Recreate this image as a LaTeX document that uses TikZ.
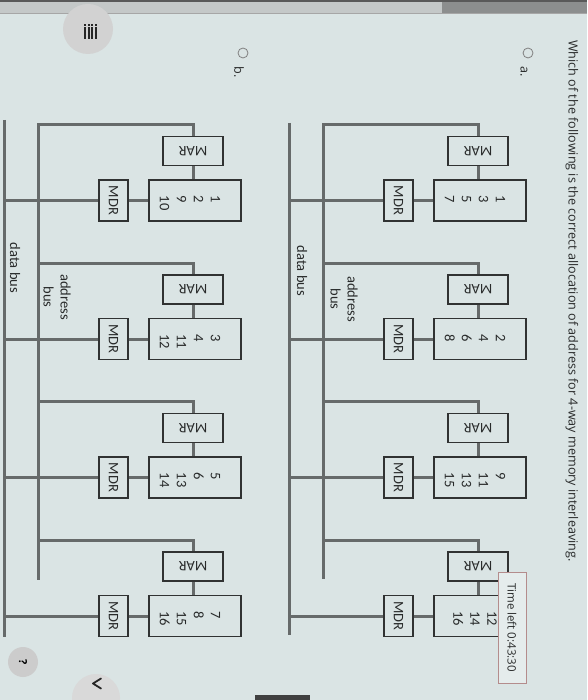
\documentclass[tikz,border=0pt]{standalone}
\usepackage{fontspec}
\usepackage{graphicx}
\setmainfont{Carlito}
\newfontfamily\qfont{Open Sans}
\definecolor{bg}{RGB}{218,228,228}
\definecolor{busc}{RGB}{102,106,106}
\definecolor{edgec}{RGB}{48,50,50}
\definecolor{ink}{RGB}{40,42,42}
\definecolor{stripl}{RGB}{196,200,200}
\definecolor{stripd}{RGB}{140,142,142}
\definecolor{timeedge}{RGB}{180,140,140}
\tikzset{
 bus/.style={draw=busc, line width=3pt},
 boxbase/.style={draw=edgec, line width=1.6pt, fill=bg, inner sep=0pt, text=ink, font=\fontsize{14.5}{17}\selectfont},
 marbox/.style={boxbase, minimum width=60pt, minimum height=29pt},
 membox/.style={boxbase, minimum width=92pt, minimum height=41pt},
 mdrbox/.style={boxbase, minimum width=29pt, minimum height=41pt},
 memtext/.style={rotate=-90, anchor=west, align=left, inner sep=0pt, text=ink, font=\fontsize{14.5}{17}\selectfont},
 lbl/.style={rotate=-90, align=center, inner sep=0pt, text=ink, font=\fontsize{14.5}{17}\selectfont},
 qtext/.style={rotate=-90, inner sep=0pt, text=ink, font=\qfont\fontsize{12.6}{15}\selectfont},
 radio/.style={circle, draw=gray, line width=0.8pt, minimum size=10pt, inner sep=0pt},
}
\newcommand\membank[4]{%
 \pgfmathsetmacro\yA{124.5+138.5*#3}%
 \pgfmathsetmacro\yM{\yA+26.5}%
 \pgfmathsetmacro\yC{\yA+76}%
 \pgfmathsetmacro\yT{\yA+71}%
 \pgfmathsetmacro\xAB{323+#2}%
 \pgfmathsetmacro\xMAR{478+#2}%
 \pgfmathsetmacro\xMEM{480+#2}%
 \pgfmathsetmacro\xMDR{398.5+#2}%
 \pgfmathsetmacro\xT{475+#2}%
 \coordinate (#1ab#3) at (\xAB,\yA);
 \node[marbox] (#1mar#3) at (\xMAR,\yM) {\rotatebox{180}{MAR}};
 \node[membox] (#1mem#3) at (\xMEM,\yC) {};
 \node[mdrbox] (#1mdr#3) at (\xMDR,\yC) {\rotatebox{-90}{MDR}};
 \node[memtext] (#1txt#3) at (\xT,\yT) {#4};
 \draw[bus] (#1ab#3) -| (#1mar#3.north);
 \draw[bus] (#1mar#3.south) -- (#1mar#3.south |- #1mem#3.north);
 \draw[bus] (#1mdr#3.west -| #1db) -- (#1mdr#3.west);
 \draw[bus] (#1mdr#3.east) -- (#1mem#3.west);
}
\begin{document}
\begin{tikzpicture}[x=1pt,y=-1pt]
\useasboundingbox (0,0) rectangle (587,700);
\fill[bg] (0,0) rectangle (587,700);
% top strip of the screen
\fill[stripl] (0,0) rectangle (442,13);
\fill[stripd] (442,0) rectangle (587,13);
\fill[black!65] (0,0) rectangle (587,2.5);
\draw[gray!70, line width=0.6pt] (0,13) -- (587,13);
% menu icon
\fill[gray!35] (88,29) circle (25);
\foreach \xx in {85,88.6,92.2,95.8} {
  \fill[black!85] (\xx-0.9,24) rectangle (\xx+0.9,26);
  \fill[black!85] (\xx-0.9,27.5) rectangle (\xx+0.9,39);
}
% question
\node[qtext, anchor=west] (q) at (572,40) {Which of the following is the correct allocation of address for 4-way memory interleaving.};
\node[radio] (ra) at (528,53) {};
\node[qtext] (la) at (524,72) {a.};
\node[radio] (rb) at (243,53) {};
\node[qtext] (lb) at (239,72) {b.};
% diagram a
\coordinate (adb) at (289,123);
\coordinate (adbend) at (289,635);
\coordinate (aabend) at (323,577);
\draw[bus] (adb) -- (adbend);
\membank{a}{0}{0}{1\\3\\5\\7}
\membank{a}{0}{1}{2\\4\\6\\8}
\membank{a}{0}{2}{9\\11\\13\\15}
\membank{a}{0}{3}{12\\14\\16}
\draw[bus, line cap=rect] (aab0) -- (aabend);
\node[lbl] (adl) at (302,271) {data bus};
\node[lbl] (aal) at (344,299) {address\\bus};
% diagram b
\coordinate (bdb) at (4,120);
\coordinate (bdbend) at (4,637);
\coordinate (babend) at (38,578);
\draw[bus] (bdb) -- (bdbend);
\membank{b}{-285}{0}{1\\2\\9\\10}
\membank{b}{-285}{1}{3\\4\\11\\12}
\membank{b}{-285}{2}{5\\6\\13\\14}
\membank{b}{-285}{3}{7\\8\\15\\16}
\draw[bus, line cap=rect] (bab0) -- (babend);
\node[lbl] (bdl) at (15,268) {data bus};
\node[lbl] (bal) at (57,297) {address\\bus};
% timer
\node[rotate=-90, draw=timeedge, line width=0.8pt, fill=bg!70!white, minimum width=111pt, minimum height=28pt, inner sep=0pt, text=ink, font=\qfont\fontsize{11.5}{14}\selectfont] (time) at (512,627.5) {Time left 0:43:30};
% help and navigation buttons
\node[circle, fill=gray!40, minimum size=30pt, inner sep=0pt, font=\qfont\bfseries\fontsize{11}{13}\selectfont] (help) at (23,662) {\rotatebox{-90}{?}};
\fill[gray!30] (96,698) circle (24);
\draw[black!85, line width=1.8pt, line cap=round, line join=round] (101,678.5) -- (93,683.5) -- (101,688.5);
\fill[black!75] (255,695) rectangle (310,700);
\end{tikzpicture}
\end{document}
